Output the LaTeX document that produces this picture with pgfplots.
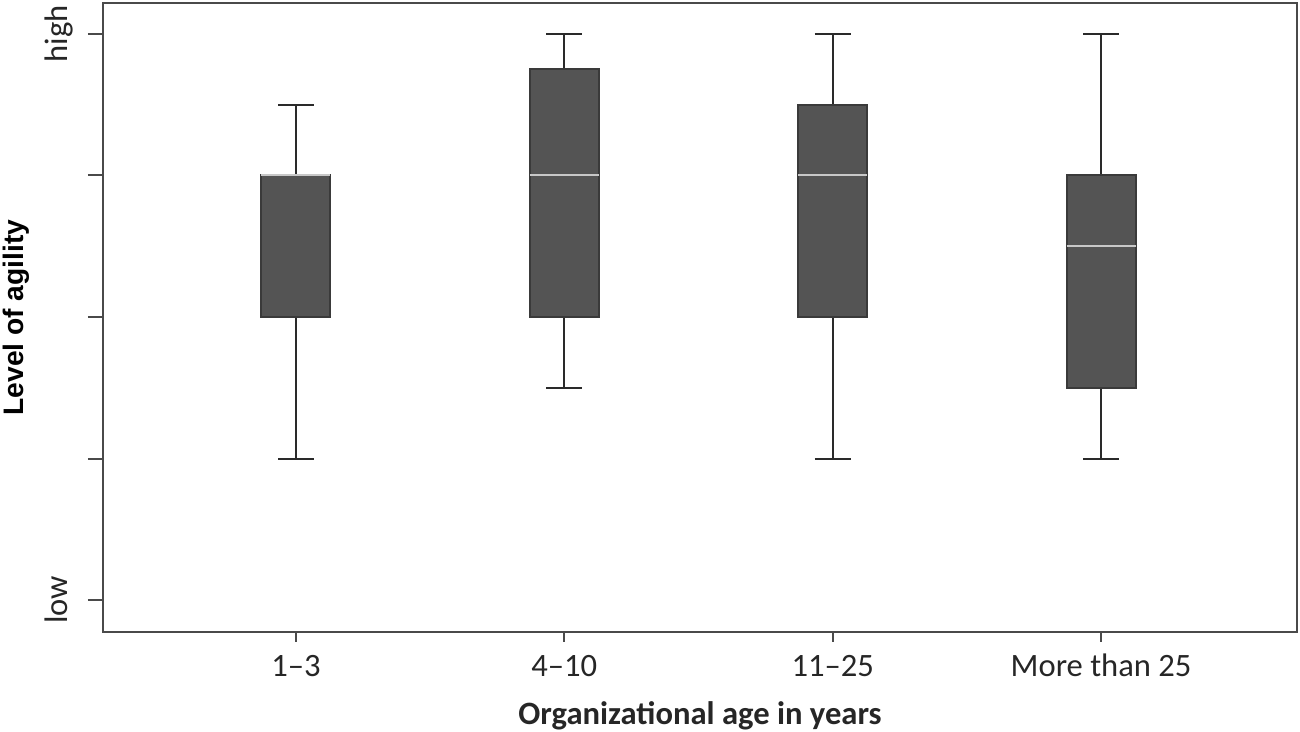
\documentclass[border=0pt]{standalone}
\usepackage{fontspec}
\setmainfont{Carlito}
\newfontfamily\arialfont{Liberation Sans}
\usepackage{pgfplots}
\usepgfplotslibrary{statistics}
\pgfplotsset{compat=1.18}

\definecolor{boxfill}{HTML}{545454}
\definecolor{boxdraw}{HTML}{3A3A3A}
\definecolor{whisk}{HTML}{2A2A2A}
\definecolor{medc}{HTML}{C8C8C8}
\definecolor{framec}{HTML}{4A4A4A}

\pgfplotsset{
  agility/.style={
    fill=boxfill, draw=boxdraw, line width=1pt,
    boxplot/draw direction=y,
    boxplot/every whisker/.style={draw=whisk, line width=1pt},
    boxplot/every median/.style={draw=medc, line width=1pt},
  },
}

\begin{document}
\begin{tikzpicture}
  \begin{axis}[
      scale only axis,
      width=597pt, height=314.5pt,
      xmin=0.281, xmax=4.730,
      ymin=0.774, ymax=5.219,
      axis line style={draw=framec, line width=1pt},
      tick align=outside,
      xtick pos=left, ytick pos=left,
      xtick={1,2,3,4},
      xticklabels={1–3,4–10,11–25,More than 25},
      ytick={1,2,3,4,5},
      yticklabels={low,{},{},{},high},
      xtick style={draw=framec, line width=1pt, /pgfplots/major tick length=5pt},
      ytick style={draw=framec, line width=1pt, /pgfplots/major tick length=7.5pt},
      tick label style={font=\fontsize{16.3}{19}\selectfont, text=black!85},
      xticklabel style={anchor=base, yshift=-18pt},
      yticklabel style={xshift=-13.5pt, rotate=90, anchor=base},
      xlabel={Organizational age in years},
      ylabel={Level of agility},
      xlabel style={at={(axis description cs:0.5,0)}, anchor=base, yshift=-46.5pt,
        font=\fontsize{16.3}{19}\selectfont\bfseries, text=black!85},
      ylabel style={at={([xshift=-39.5pt]axis description cs:0,0.5)}, anchor=base,
        font=\arialfont\fontsize{14.1}{17}\selectfont\bfseries},
    ]
    % 1-3
    \addplot[agility, boxplot prepared={
        lower whisker=2, lower quartile=3, median=4,
        upper quartile=4, upper whisker=4.5,
        draw position=1, box extend=0.257, whisker extend=0.133}]
      coordinates {};
    % 4-10
    \addplot[agility, boxplot prepared={
        lower whisker=2.5, lower quartile=3, median=4,
        upper quartile=4.75, upper whisker=5,
        draw position=2, box extend=0.257, whisker extend=0.133}]
      coordinates {};
    % 11-25
    \addplot[agility, boxplot prepared={
        lower whisker=2, lower quartile=3, median=4,
        upper quartile=4.5, upper whisker=5,
        draw position=3, box extend=0.257, whisker extend=0.133}]
      coordinates {};
    % more than 25
    \addplot[agility, boxplot prepared={
        lower whisker=2, lower quartile=2.5, median=3.5,
        upper quartile=4, upper whisker=5,
        draw position=4, box extend=0.257, whisker extend=0.133}]
      coordinates {};
  \end{axis}
  \pgfresetboundingbox
  \path (-51.5pt,-50pt) rectangle (598.5pt,316pt);
\end{tikzpicture}
\end{document}
